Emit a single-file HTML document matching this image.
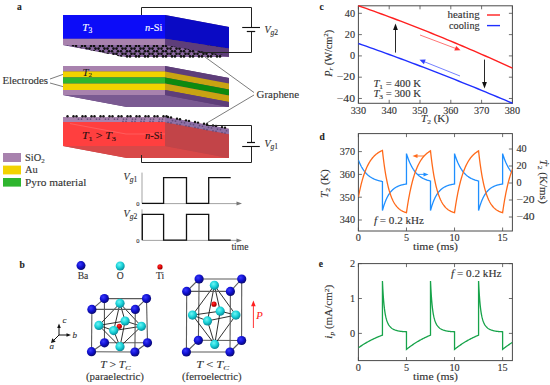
<!DOCTYPE html>
<html><head><meta charset="utf-8"><style>
html,body{margin:0;padding:0;background:#fff;}
svg{display:block;font-family:"Liberation Serif", serif;}
</style></head><body>
<svg width="550" height="385" viewBox="0 0 550 385">
<rect width="550" height="385" fill="#fff"/>
<rect x="358.4" y="5.8" width="154.00" height="97.50" fill="none" stroke="#4a4a4a" stroke-width="1"/>
<line x1="358.40" y1="103.3" x2="358.40" y2="99.8" stroke="#4a4a4a" stroke-width="0.8"/>
<line x1="358.40" y1="5.8" x2="358.40" y2="9.3" stroke="#4a4a4a" stroke-width="0.8"/>
<text x="358.40" y="113.50" font-size="9.6" text-anchor="middle" fill="#333333" textLength="15.3" lengthAdjust="spacingAndGlyphs" stroke="#333333" stroke-width="0.12">330</text>
<line x1="389.20" y1="103.3" x2="389.20" y2="99.8" stroke="#4a4a4a" stroke-width="0.8"/>
<line x1="389.20" y1="5.8" x2="389.20" y2="9.3" stroke="#4a4a4a" stroke-width="0.8"/>
<text x="389.20" y="113.50" font-size="9.6" text-anchor="middle" fill="#333333" textLength="15.3" lengthAdjust="spacingAndGlyphs" stroke="#333333" stroke-width="0.12">340</text>
<line x1="420.00" y1="103.3" x2="420.00" y2="99.8" stroke="#4a4a4a" stroke-width="0.8"/>
<line x1="420.00" y1="5.8" x2="420.00" y2="9.3" stroke="#4a4a4a" stroke-width="0.8"/>
<text x="420.00" y="113.50" font-size="9.6" text-anchor="middle" fill="#333333" textLength="15.3" lengthAdjust="spacingAndGlyphs" stroke="#333333" stroke-width="0.12">350</text>
<line x1="450.80" y1="103.3" x2="450.80" y2="99.8" stroke="#4a4a4a" stroke-width="0.8"/>
<line x1="450.80" y1="5.8" x2="450.80" y2="9.3" stroke="#4a4a4a" stroke-width="0.8"/>
<text x="450.80" y="113.50" font-size="9.6" text-anchor="middle" fill="#333333" textLength="15.3" lengthAdjust="spacingAndGlyphs" stroke="#333333" stroke-width="0.12">360</text>
<line x1="481.60" y1="103.3" x2="481.60" y2="99.8" stroke="#4a4a4a" stroke-width="0.8"/>
<line x1="481.60" y1="5.8" x2="481.60" y2="9.3" stroke="#4a4a4a" stroke-width="0.8"/>
<text x="481.60" y="113.50" font-size="9.6" text-anchor="middle" fill="#333333" textLength="15.3" lengthAdjust="spacingAndGlyphs" stroke="#333333" stroke-width="0.12">370</text>
<line x1="512.40" y1="103.3" x2="512.40" y2="99.8" stroke="#4a4a4a" stroke-width="0.8"/>
<line x1="512.40" y1="5.8" x2="512.40" y2="9.3" stroke="#4a4a4a" stroke-width="0.8"/>
<text x="512.40" y="113.50" font-size="9.6" text-anchor="middle" fill="#333333" textLength="15.3" lengthAdjust="spacingAndGlyphs" stroke="#333333" stroke-width="0.12">380</text>
<line x1="358.4" y1="98.48" x2="361.9" y2="98.48" stroke="#4a4a4a" stroke-width="0.8"/>
<line x1="512.4" y1="98.48" x2="508.9" y2="98.48" stroke="#4a4a4a" stroke-width="0.8"/>
<text x="355.00" y="101.78" font-size="9.6" text-anchor="end" fill="#333333" textLength="18.2" lengthAdjust="spacingAndGlyphs" stroke="#333333" stroke-width="0.12">&#8722;40</text>
<line x1="358.4" y1="77.19" x2="361.9" y2="77.19" stroke="#4a4a4a" stroke-width="0.8"/>
<line x1="512.4" y1="77.19" x2="508.9" y2="77.19" stroke="#4a4a4a" stroke-width="0.8"/>
<text x="355.00" y="80.49" font-size="9.6" text-anchor="end" fill="#333333" textLength="18.2" lengthAdjust="spacingAndGlyphs" stroke="#333333" stroke-width="0.12">&#8722;20</text>
<line x1="358.4" y1="55.90" x2="361.9" y2="55.90" stroke="#4a4a4a" stroke-width="0.8"/>
<line x1="512.4" y1="55.90" x2="508.9" y2="55.90" stroke="#4a4a4a" stroke-width="0.8"/>
<text x="355.00" y="59.20" font-size="9.6" text-anchor="end" fill="#333333" textLength="5.1" lengthAdjust="spacingAndGlyphs" stroke="#333333" stroke-width="0.12">0</text>
<line x1="358.4" y1="34.61" x2="361.9" y2="34.61" stroke="#4a4a4a" stroke-width="0.8"/>
<line x1="512.4" y1="34.61" x2="508.9" y2="34.61" stroke="#4a4a4a" stroke-width="0.8"/>
<text x="355.00" y="37.91" font-size="9.6" text-anchor="end" fill="#333333" textLength="10.2" lengthAdjust="spacingAndGlyphs" stroke="#333333" stroke-width="0.12">20</text>
<line x1="358.4" y1="13.32" x2="361.9" y2="13.32" stroke="#4a4a4a" stroke-width="0.8"/>
<line x1="512.4" y1="13.32" x2="508.9" y2="13.32" stroke="#4a4a4a" stroke-width="0.8"/>
<text x="355.00" y="16.62" font-size="9.6" text-anchor="end" fill="#333333" textLength="10.2" lengthAdjust="spacingAndGlyphs" stroke="#333333" stroke-width="0.12">40</text>
<path d="M358.40,5.74 L362.25,7.09 L366.10,8.45 L369.95,9.82 L373.80,11.21 L377.65,12.60 L381.50,14.01 L385.35,15.42 L389.20,16.85 L393.05,18.28 L396.90,19.73 L400.75,21.19 L404.60,22.66 L408.45,24.14 L412.30,25.63 L416.15,27.13 L420.00,28.64 L423.85,30.16 L427.70,31.70 L431.55,33.24 L435.40,34.80 L439.25,36.36 L443.10,37.94 L446.95,39.53 L450.80,41.13 L454.65,42.74 L458.50,44.36 L462.35,45.99 L466.20,47.63 L470.05,49.28 L473.90,50.94 L477.75,52.62 L481.60,54.30 L485.45,56.00 L489.30,57.70 L493.15,59.42 L497.00,61.15 L500.85,62.89 L504.70,64.64 L508.55,66.40 L512.40,68.17" fill="none" stroke="#ff1f1f" stroke-width="1.4"/>
<path d="M358.40,43.47 L362.25,44.82 L366.10,46.18 L369.95,47.55 L373.80,48.92 L377.65,50.30 L381.50,51.69 L385.35,53.09 L389.20,54.49 L393.05,55.90 L396.90,57.32 L400.75,58.74 L404.60,60.17 L408.45,61.61 L412.30,63.06 L416.15,64.52 L420.00,65.98 L423.85,67.45 L427.70,68.92 L431.55,70.40 L435.40,71.90 L439.25,73.39 L443.10,74.90 L446.95,76.41 L450.80,77.93 L454.65,79.46 L458.50,80.99 L462.35,82.53 L466.20,84.08 L470.05,85.64 L473.90,87.20 L477.75,88.77 L481.60,90.35 L485.45,91.94 L489.30,93.53 L493.15,95.13 L497.00,96.74 L500.85,98.35 L504.70,99.97 L508.55,101.60 L512.40,103.24" fill="none" stroke="#1f2fff" stroke-width="1.4"/>
<line x1="395.5" y1="52.6" x2="395.5" y2="28" stroke="#111" stroke-width="0.9"/>
<path d="M395.5,23.5 L393.1,30 L397.9,30 Z" fill="#111"/>
<line x1="484.5" y1="59.6" x2="484.5" y2="84" stroke="#111" stroke-width="0.9"/>
<path d="M484.5,88.5 L482.1,82 L486.9,82 Z" fill="#111"/>
<line x1="420" y1="35" x2="456" y2="48.6" stroke="#ff5050" stroke-width="0.8"/>
<path d="M460.5,50.3 L454.3,50.6 L456.2,45.9 Z" fill="#ff3030"/>
<line x1="460" y1="76" x2="424" y2="61.6" stroke="#5060ff" stroke-width="0.8"/>
<path d="M419.5,59.8 L425.7,59.6 L423.9,64.3 Z" fill="#3040ff"/>
<line x1="487" y1="15" x2="500" y2="15" stroke="#ff1f1f" stroke-width="1.4"/>
<line x1="487" y1="25.6" x2="500" y2="25.6" stroke="#1f2fff" stroke-width="1.4"/>
<text x="479.60" y="18.40" font-size="9.6" text-anchor="end" fill="#333333" textLength="32" lengthAdjust="spacingAndGlyphs" stroke="#333333" stroke-width="0.12">heating</text>
<text x="479.60" y="28.60" font-size="9.6" text-anchor="end" fill="#333333" textLength="30.6" lengthAdjust="spacingAndGlyphs" stroke="#333333" stroke-width="0.12">cooling</text>
<text x="373.4" y="87" font-size="9.4" fill="#333333" textLength="47.6" lengthAdjust="spacingAndGlyphs" stroke="#333333" stroke-width="0.12"><tspan font-style="italic">T</tspan><tspan font-size="6.5" dy="1.6">1</tspan><tspan dy="-1.6"> = 400 K</tspan></text>
<text x="373.4" y="97" font-size="9.4" fill="#333333" textLength="47.6" lengthAdjust="spacingAndGlyphs" stroke="#333333" stroke-width="0.12"><tspan font-style="italic">T</tspan><tspan font-size="6.5" dy="1.6">3</tspan><tspan dy="-1.6"> = 300 K</tspan></text>
<text x="421" y="122" font-size="9.6" fill="#333333" textLength="28" lengthAdjust="spacingAndGlyphs" stroke="#333333" stroke-width="0.12"><tspan font-style="italic">T</tspan><tspan font-size="6.5" dy="1.6">2</tspan><tspan dy="-1.6">  (K)</tspan></text>
<g transform="translate(331.5,53.3) rotate(-90)"><text x="0" y="0" font-size="9.6" text-anchor="middle" fill="#333333" textLength="47" lengthAdjust="spacingAndGlyphs" stroke="#333333" stroke-width="0.12"><tspan font-style="italic">P</tspan><tspan font-size="6.5" dy="1.6" font-style="italic">r</tspan><tspan dy="-1.6"> (W/cm</tspan><tspan font-size="6.5" dy="-3.5">2</tspan><tspan dy="3.5">)</tspan></text></g>
<text x="319.40" y="9.50" font-size="9.5" text-anchor="start" fill="#222" font-weight="bold"  stroke="#222" stroke-width="0.12">c</text>
<rect x="358.4" y="133.6" width="154.00" height="97.40" fill="none" stroke="#4a4a4a" stroke-width="1"/>
<line x1="358.40" y1="231.0" x2="358.40" y2="227.5" stroke="#4a4a4a" stroke-width="0.8"/>
<line x1="358.40" y1="133.6" x2="358.40" y2="137.1" stroke="#4a4a4a" stroke-width="0.8"/>
<text x="358.40" y="241.30" font-size="9.6" text-anchor="middle" fill="#333333" textLength="5.1" lengthAdjust="spacingAndGlyphs" stroke="#333333" stroke-width="0.12">0</text>
<line x1="406.47" y1="231.0" x2="406.47" y2="227.5" stroke="#4a4a4a" stroke-width="0.8"/>
<line x1="406.47" y1="133.6" x2="406.47" y2="137.1" stroke="#4a4a4a" stroke-width="0.8"/>
<text x="406.47" y="241.30" font-size="9.6" text-anchor="middle" fill="#333333" textLength="5.1" lengthAdjust="spacingAndGlyphs" stroke="#333333" stroke-width="0.12">5</text>
<line x1="454.54" y1="231.0" x2="454.54" y2="227.5" stroke="#4a4a4a" stroke-width="0.8"/>
<line x1="454.54" y1="133.6" x2="454.54" y2="137.1" stroke="#4a4a4a" stroke-width="0.8"/>
<text x="454.54" y="241.30" font-size="9.6" text-anchor="middle" fill="#333333" textLength="10.2" lengthAdjust="spacingAndGlyphs" stroke="#333333" stroke-width="0.12">10</text>
<line x1="502.61" y1="231.0" x2="502.61" y2="227.5" stroke="#4a4a4a" stroke-width="0.8"/>
<line x1="502.61" y1="133.6" x2="502.61" y2="137.1" stroke="#4a4a4a" stroke-width="0.8"/>
<text x="502.61" y="241.30" font-size="9.6" text-anchor="middle" fill="#333333" textLength="10.2" lengthAdjust="spacingAndGlyphs" stroke="#333333" stroke-width="0.12">15</text>
<line x1="358.4" y1="220.00" x2="361.9" y2="220.00" stroke="#4a4a4a" stroke-width="0.8"/>
<text x="355.00" y="223.30" font-size="9.6" text-anchor="end" fill="#333333" textLength="15.3" lengthAdjust="spacingAndGlyphs" stroke="#333333" stroke-width="0.12">340</text>
<line x1="358.4" y1="197.20" x2="361.9" y2="197.20" stroke="#4a4a4a" stroke-width="0.8"/>
<text x="355.00" y="200.50" font-size="9.6" text-anchor="end" fill="#333333" textLength="15.3" lengthAdjust="spacingAndGlyphs" stroke="#333333" stroke-width="0.12">350</text>
<line x1="358.4" y1="174.40" x2="361.9" y2="174.40" stroke="#4a4a4a" stroke-width="0.8"/>
<text x="355.00" y="177.70" font-size="9.6" text-anchor="end" fill="#333333" textLength="15.3" lengthAdjust="spacingAndGlyphs" stroke="#333333" stroke-width="0.12">360</text>
<line x1="358.4" y1="151.60" x2="361.9" y2="151.60" stroke="#4a4a4a" stroke-width="0.8"/>
<text x="355.00" y="154.90" font-size="9.6" text-anchor="end" fill="#333333" textLength="15.3" lengthAdjust="spacingAndGlyphs" stroke="#333333" stroke-width="0.12">370</text>
<line x1="512.4" y1="217.00" x2="508.9" y2="217.00" stroke="#4a4a4a" stroke-width="0.8"/>
<text x="516.50" y="220.30" font-size="9.6" text-anchor="start" fill="#333333" textLength="18.2" lengthAdjust="spacingAndGlyphs" stroke="#333333" stroke-width="0.12">&#8722;40</text>
<line x1="512.4" y1="200.00" x2="508.9" y2="200.00" stroke="#4a4a4a" stroke-width="0.8"/>
<text x="516.50" y="203.30" font-size="9.6" text-anchor="start" fill="#333333" textLength="18.2" lengthAdjust="spacingAndGlyphs" stroke="#333333" stroke-width="0.12">&#8722;20</text>
<line x1="512.4" y1="183.00" x2="508.9" y2="183.00" stroke="#4a4a4a" stroke-width="0.8"/>
<text x="516.50" y="186.30" font-size="9.6" text-anchor="start" fill="#333333" textLength="5.1" lengthAdjust="spacingAndGlyphs" stroke="#333333" stroke-width="0.12">0</text>
<line x1="512.4" y1="166.00" x2="508.9" y2="166.00" stroke="#4a4a4a" stroke-width="0.8"/>
<text x="516.50" y="169.30" font-size="9.6" text-anchor="start" fill="#333333" textLength="10.2" lengthAdjust="spacingAndGlyphs" stroke="#333333" stroke-width="0.12">20</text>
<line x1="512.4" y1="149.00" x2="508.9" y2="149.00" stroke="#4a4a4a" stroke-width="0.8"/>
<text x="516.50" y="152.30" font-size="9.6" text-anchor="start" fill="#333333" textLength="10.2" lengthAdjust="spacingAndGlyphs" stroke="#333333" stroke-width="0.12">40</text>
<defs><clipPath id="clipd"><rect x="358.4" y="133.6" width="154.00" height="97.40"/></clipPath><clipPath id="clipe"><rect x="358.4" y="263.6" width="154" height="97"/></clipPath></defs>
<g clip-path="url(#clipd)"><path d="M358.40,160.05 L358.80,161.06 L359.20,162.02 L359.60,162.94 L360.00,163.82 L360.40,164.66 L360.80,165.46 L361.20,166.23 L361.60,166.96 L362.01,167.67 L362.41,168.34 L362.81,168.98 L363.21,169.59 L363.61,170.18 L364.01,170.74 L364.41,171.28 L364.81,171.79 L365.21,172.28 L365.61,172.75 L366.01,173.20 L366.41,173.63 L366.81,174.04 L367.21,174.44 L367.61,174.81 L368.01,175.17 L368.41,175.51 L368.82,175.84 L369.22,176.15 L369.62,176.45 L370.02,176.74 L370.42,177.02 L370.82,177.28 L371.22,177.53 L371.62,177.77 L372.02,178.00 L372.42,178.22 L372.82,178.43 L373.22,178.63 L373.62,178.82 L374.02,179.00 L374.42,179.18 L374.82,179.34 L375.22,179.50 L375.63,179.66 L376.03,179.80 L376.43,179.94 L376.83,180.08 L377.23,180.21 L377.63,180.33 L378.03,180.45 L378.43,180.56 L378.83,180.66 L379.23,180.77 L379.63,180.86 L380.03,180.96 L380.43,181.05 L380.83,181.13 L381.23,181.21 L381.63,181.29 L382.03,181.37 L382.44,181.44 L382.44,210.62 L382.84,209.15 L383.24,207.75 L383.64,206.42 L384.04,205.17 L384.44,203.98 L384.84,202.86 L385.24,201.79 L385.64,200.79 L386.04,199.83 L386.44,198.93 L386.84,198.08 L387.24,197.27 L387.64,196.51 L388.04,195.78 L388.44,195.10 L388.84,194.45 L389.24,193.84 L389.65,193.26 L390.05,192.71 L390.45,192.19 L390.85,191.70 L391.25,191.23 L391.65,190.79 L392.05,190.37 L392.45,189.98 L392.85,189.60 L393.25,189.25 L393.65,188.92 L394.05,188.60 L394.45,188.30 L394.85,188.01 L395.25,187.75 L395.65,187.49 L396.05,187.25 L396.46,187.02 L396.86,186.81 L397.26,186.60 L397.66,186.41 L398.06,186.23 L398.46,186.06 L398.86,185.89 L399.26,185.74 L399.66,185.59 L400.06,185.45 L400.46,185.32 L400.86,185.20 L401.26,185.08 L401.66,184.97 L402.06,184.86 L402.46,184.76 L402.86,184.67 L403.27,184.58 L403.67,184.49 L404.07,184.41 L404.47,184.34 L404.87,184.27 L405.27,184.20 L405.67,184.13 L406.07,184.07 L406.47,184.02 L406.47,153.59 L406.87,154.88 L407.27,156.11 L407.67,157.29 L408.07,158.42 L408.47,159.49 L408.87,160.52 L409.27,161.51 L409.67,162.45 L410.08,163.35 L410.48,164.21 L410.88,165.03 L411.28,165.82 L411.68,166.57 L412.08,167.29 L412.48,167.98 L412.88,168.64 L413.28,169.27 L413.68,169.87 L414.08,170.45 L414.48,171.00 L414.88,171.52 L415.28,172.02 L415.68,172.51 L416.08,172.97 L416.48,173.40 L416.89,173.83 L417.29,174.23 L417.69,174.61 L418.09,174.98 L418.49,175.33 L418.89,175.67 L419.29,175.99 L419.69,176.30 L420.09,176.59 L420.49,176.87 L420.89,177.14 L421.29,177.40 L421.69,177.64 L422.09,177.88 L422.49,178.10 L422.89,178.31 L423.29,178.52 L423.70,178.72 L424.10,178.90 L424.50,179.08 L424.90,179.26 L425.30,179.42 L425.70,179.58 L426.10,179.73 L426.50,179.87 L426.90,180.01 L427.30,180.14 L427.70,180.26 L428.10,180.38 L428.50,180.50 L428.90,180.61 L429.30,180.71 L429.70,180.81 L430.10,180.91 L430.50,181.00 L430.50,210.62 L430.91,209.15 L431.31,207.75 L431.71,206.42 L432.11,205.17 L432.51,203.98 L432.91,202.86 L433.31,201.79 L433.71,200.79 L434.11,199.83 L434.51,198.93 L434.91,198.08 L435.31,197.27 L435.71,196.51 L436.11,195.78 L436.51,195.10 L436.91,194.45 L437.31,193.84 L437.72,193.26 L438.12,192.71 L438.52,192.19 L438.92,191.70 L439.32,191.23 L439.72,190.79 L440.12,190.37 L440.52,189.98 L440.92,189.60 L441.32,189.25 L441.72,188.92 L442.12,188.60 L442.52,188.30 L442.92,188.01 L443.32,187.75 L443.72,187.49 L444.12,187.25 L444.53,187.02 L444.93,186.81 L445.33,186.60 L445.73,186.41 L446.13,186.23 L446.53,186.06 L446.93,185.89 L447.33,185.74 L447.73,185.59 L448.13,185.45 L448.53,185.32 L448.93,185.20 L449.33,185.08 L449.73,184.97 L450.13,184.86 L450.53,184.76 L450.93,184.67 L451.34,184.58 L451.74,184.49 L452.14,184.41 L452.54,184.34 L452.94,184.27 L453.34,184.20 L453.74,184.13 L454.14,184.07 L454.54,184.02 L454.54,153.59 L454.94,154.88 L455.34,156.11 L455.74,157.29 L456.14,158.42 L456.54,159.49 L456.94,160.52 L457.34,161.51 L457.74,162.45 L458.15,163.35 L458.55,164.21 L458.95,165.03 L459.35,165.82 L459.75,166.57 L460.15,167.29 L460.55,167.98 L460.95,168.64 L461.35,169.27 L461.75,169.87 L462.15,170.45 L462.55,171.00 L462.95,171.52 L463.35,172.02 L463.75,172.51 L464.15,172.97 L464.55,173.40 L464.96,173.83 L465.36,174.23 L465.76,174.61 L466.16,174.98 L466.56,175.33 L466.96,175.67 L467.36,175.99 L467.76,176.30 L468.16,176.59 L468.56,176.87 L468.96,177.14 L469.36,177.40 L469.76,177.64 L470.16,177.88 L470.56,178.10 L470.96,178.31 L471.36,178.52 L471.77,178.72 L472.17,178.90 L472.57,179.08 L472.97,179.26 L473.37,179.42 L473.77,179.58 L474.17,179.73 L474.57,179.87 L474.97,180.01 L475.37,180.14 L475.77,180.26 L476.17,180.38 L476.57,180.50 L476.97,180.61 L477.37,180.71 L477.77,180.81 L478.17,180.91 L478.57,181.00 L478.57,210.62 L478.98,209.15 L479.38,207.75 L479.78,206.42 L480.18,205.17 L480.58,203.98 L480.98,202.86 L481.38,201.79 L481.78,200.79 L482.18,199.83 L482.58,198.93 L482.98,198.08 L483.38,197.27 L483.78,196.51 L484.18,195.78 L484.58,195.10 L484.98,194.45 L485.38,193.84 L485.79,193.26 L486.19,192.71 L486.59,192.19 L486.99,191.70 L487.39,191.23 L487.79,190.79 L488.19,190.37 L488.59,189.98 L488.99,189.60 L489.39,189.25 L489.79,188.92 L490.19,188.60 L490.59,188.30 L490.99,188.01 L491.39,187.75 L491.79,187.49 L492.19,187.25 L492.60,187.02 L493.00,186.81 L493.40,186.60 L493.80,186.41 L494.20,186.23 L494.60,186.06 L495.00,185.89 L495.40,185.74 L495.80,185.59 L496.20,185.45 L496.60,185.32 L497.00,185.20 L497.40,185.08 L497.80,184.97 L498.20,184.86 L498.60,184.76 L499.00,184.67 L499.41,184.58 L499.81,184.49 L500.21,184.41 L500.61,184.34 L501.01,184.27 L501.41,184.20 L501.81,184.13 L502.21,184.07 L502.61,184.02 L502.61,153.59 L503.01,154.88 L503.41,156.11 L503.81,157.29 L504.21,158.42 L504.61,159.49 L505.01,160.52 L505.41,161.51 L505.81,162.45 L506.22,163.35 L506.62,164.21 L507.02,165.03 L507.42,165.82 L507.82,166.57 L508.22,167.29 L508.62,167.98 L509.02,168.64 L509.42,169.27 L509.82,169.87 L510.22,170.45 L510.62,171.00 L511.02,171.52 L511.42,172.02 L511.82,172.51 L512.22,172.97 L512.62,173.40" fill="none" stroke="#1f8fff" stroke-width="1.3"/>
<path d="M358.40,197.20 L358.80,195.10 L359.20,193.08 L359.60,191.15 L360.00,189.30 L360.40,187.53 L360.80,185.82 L361.20,184.19 L361.60,182.63 L362.01,181.13 L362.41,179.69 L362.81,178.32 L363.21,177.00 L363.61,175.73 L364.01,174.52 L364.41,173.36 L364.81,172.24 L365.21,171.17 L365.61,170.15 L366.01,169.17 L366.41,168.23 L366.81,167.33 L367.21,166.46 L367.61,165.63 L368.01,164.84 L368.41,164.08 L368.82,163.35 L369.22,162.65 L369.62,161.98 L370.02,161.33 L370.42,160.72 L370.82,160.12 L371.22,159.56 L371.62,159.02 L372.02,158.50 L372.42,158.00 L372.82,157.52 L373.22,157.06 L373.62,156.62 L374.02,156.20 L374.42,155.80 L374.82,155.41 L375.22,155.04 L375.63,154.68 L376.03,154.34 L376.43,154.01 L376.83,153.70 L377.23,153.40 L377.63,153.11 L378.03,152.84 L378.43,152.57 L378.83,152.32 L379.23,152.07 L379.63,151.84 L380.03,151.62 L380.43,151.40 L380.83,151.20 L381.23,151.00 L381.63,150.81 L382.03,150.63 L382.44,150.46 L382.44,150.46 L382.84,154.07 L383.24,157.48 L383.64,160.70 L384.04,163.73 L384.44,166.60 L384.84,169.30 L385.24,171.86 L385.64,174.27 L386.04,176.54 L386.44,178.68 L386.84,180.71 L387.24,182.62 L387.64,184.42 L388.04,186.13 L388.44,187.73 L388.84,189.25 L389.24,190.68 L389.65,192.03 L390.05,193.31 L390.45,194.51 L390.85,195.64 L391.25,196.71 L391.65,197.73 L392.05,198.68 L392.45,199.58 L392.85,200.43 L393.25,201.23 L393.65,201.99 L394.05,202.71 L394.45,203.38 L394.85,204.02 L395.25,204.62 L395.65,205.18 L396.05,205.72 L396.46,206.22 L396.86,206.70 L397.26,207.15 L397.66,207.57 L398.06,207.97 L398.46,208.35 L398.86,208.71 L399.26,209.05 L399.66,209.36 L400.06,209.66 L400.46,209.95 L400.86,210.21 L401.26,210.47 L401.66,210.70 L402.06,210.93 L402.46,211.14 L402.86,211.34 L403.27,211.53 L403.67,211.71 L404.07,211.88 L404.47,212.03 L404.87,212.18 L405.27,212.33 L405.67,212.46 L406.07,212.59 L406.47,212.70 L406.47,212.70 L406.87,209.93 L407.27,207.26 L407.67,204.71 L408.07,202.26 L408.47,199.91 L408.87,197.67 L409.27,195.51 L409.67,193.44 L410.08,191.46 L410.48,189.56 L410.88,187.74 L411.28,186.00 L411.68,184.33 L412.08,182.72 L412.48,181.18 L412.88,179.71 L413.28,178.30 L413.68,176.95 L414.08,175.65 L414.48,174.40 L414.88,173.21 L415.28,172.07 L415.68,170.97 L416.08,169.92 L416.48,168.92 L416.89,167.95 L417.29,167.03 L417.69,166.14 L418.09,165.29 L418.49,164.47 L418.89,163.69 L419.29,162.94 L419.69,162.23 L420.09,161.54 L420.49,160.88 L420.89,160.25 L421.29,159.64 L421.69,159.06 L422.09,158.50 L422.49,157.97 L422.89,157.46 L423.29,156.97 L423.70,156.50 L424.10,156.05 L424.50,155.61 L424.90,155.20 L425.30,154.80 L425.70,154.42 L426.10,154.06 L426.50,153.71 L426.90,153.37 L427.30,153.05 L427.70,152.74 L428.10,152.45 L428.50,152.16 L428.90,151.89 L429.30,151.63 L429.70,151.38 L430.10,151.15 L430.50,150.92 L430.50,150.92 L430.91,154.50 L431.31,157.89 L431.71,161.08 L432.11,164.09 L432.51,166.94 L432.91,169.62 L433.31,172.16 L433.71,174.55 L434.11,176.80 L434.51,178.93 L434.91,180.94 L435.31,182.84 L435.71,184.63 L436.11,186.32 L436.51,187.92 L436.91,189.42 L437.31,190.84 L437.72,192.18 L438.12,193.45 L438.52,194.64 L438.92,195.77 L439.32,196.83 L439.72,197.84 L440.12,198.78 L440.52,199.68 L440.92,200.52 L441.32,201.32 L441.72,202.07 L442.12,202.78 L442.52,203.45 L442.92,204.08 L443.32,204.68 L443.72,205.24 L444.12,205.77 L444.53,206.27 L444.93,206.74 L445.33,207.19 L445.73,207.61 L446.13,208.01 L446.53,208.38 L446.93,208.74 L447.33,209.07 L447.73,209.39 L448.13,209.69 L448.53,209.97 L448.93,210.23 L449.33,210.48 L449.73,210.72 L450.13,210.94 L450.53,211.15 L450.93,211.35 L451.34,211.54 L451.74,211.72 L452.14,211.88 L452.54,212.04 L452.94,212.19 L453.34,212.33 L453.74,212.46 L454.14,212.59 L454.54,212.70 L454.54,212.70 L454.94,209.93 L455.34,207.26 L455.74,204.71 L456.14,202.26 L456.54,199.91 L456.94,197.67 L457.34,195.51 L457.74,193.44 L458.15,191.46 L458.55,189.56 L458.95,187.74 L459.35,186.00 L459.75,184.33 L460.15,182.72 L460.55,181.18 L460.95,179.71 L461.35,178.30 L461.75,176.95 L462.15,175.65 L462.55,174.40 L462.95,173.21 L463.35,172.07 L463.75,170.97 L464.15,169.92 L464.55,168.92 L464.96,167.95 L465.36,167.03 L465.76,166.14 L466.16,165.29 L466.56,164.47 L466.96,163.69 L467.36,162.94 L467.76,162.23 L468.16,161.54 L468.56,160.88 L468.96,160.25 L469.36,159.64 L469.76,159.06 L470.16,158.50 L470.56,157.97 L470.96,157.46 L471.36,156.97 L471.77,156.50 L472.17,156.05 L472.57,155.61 L472.97,155.20 L473.37,154.80 L473.77,154.42 L474.17,154.06 L474.57,153.71 L474.97,153.37 L475.37,153.05 L475.77,152.74 L476.17,152.45 L476.57,152.16 L476.97,151.89 L477.37,151.63 L477.77,151.38 L478.17,151.15 L478.57,150.92 L478.57,150.92 L478.98,154.50 L479.38,157.89 L479.78,161.08 L480.18,164.09 L480.58,166.94 L480.98,169.62 L481.38,172.16 L481.78,174.55 L482.18,176.80 L482.58,178.93 L482.98,180.94 L483.38,182.84 L483.78,184.63 L484.18,186.32 L484.58,187.92 L484.98,189.42 L485.38,190.84 L485.79,192.18 L486.19,193.45 L486.59,194.64 L486.99,195.77 L487.39,196.83 L487.79,197.84 L488.19,198.78 L488.59,199.68 L488.99,200.52 L489.39,201.32 L489.79,202.07 L490.19,202.78 L490.59,203.45 L490.99,204.08 L491.39,204.68 L491.79,205.24 L492.19,205.77 L492.60,206.27 L493.00,206.74 L493.40,207.19 L493.80,207.61 L494.20,208.01 L494.60,208.38 L495.00,208.74 L495.40,209.07 L495.80,209.39 L496.20,209.69 L496.60,209.97 L497.00,210.23 L497.40,210.48 L497.80,210.72 L498.20,210.94 L498.60,211.15 L499.00,211.35 L499.41,211.54 L499.81,211.72 L500.21,211.88 L500.61,212.04 L501.01,212.19 L501.41,212.33 L501.81,212.46 L502.21,212.59 L502.61,212.70 L502.61,212.70 L503.01,209.93 L503.41,207.26 L503.81,204.71 L504.21,202.26 L504.61,199.91 L505.01,197.67 L505.41,195.51 L505.81,193.44 L506.22,191.46 L506.62,189.56 L507.02,187.74 L507.42,186.00 L507.82,184.33 L508.22,182.72 L508.62,181.18 L509.02,179.71 L509.42,178.30 L509.82,176.95 L510.22,175.65 L510.62,174.40 L511.02,173.21 L511.42,172.07 L511.82,170.97 L512.22,169.92 L512.62,168.92" fill="none" stroke="#ff6a1a" stroke-width="1.3"/></g>
<line x1="424" y1="156" x2="416" y2="156" stroke="#ff6a1a" stroke-width="0.9"/>
<path d="M412.5,156 L417.5,154 L417.5,158 Z" fill="#ff6a1a"/>
<line x1="418" y1="174.4" x2="425" y2="174.4" stroke="#1f8fff" stroke-width="0.9"/>
<path d="M428.5,174.4 L423.5,172.4 L423.5,176.4 Z" fill="#1f8fff"/>
<text x="374" y="224" font-size="9.6" fill="#333333" textLength="50" lengthAdjust="spacingAndGlyphs" stroke="#333333" stroke-width="0.12"><tspan font-style="italic">f</tspan><tspan> = 0.2 kHz</tspan></text>
<text x="435.40" y="250.00" font-size="9.6" text-anchor="middle" fill="#333333" textLength="45" lengthAdjust="spacingAndGlyphs" stroke="#333333" stroke-width="0.12">time (ms)</text>
<g transform="translate(328,183.7) rotate(-90)"><text x="0" y="0" font-size="9.6" text-anchor="middle" fill="#333333" textLength="28.7" lengthAdjust="spacingAndGlyphs" stroke="#333333" stroke-width="0.12"><tspan font-style="italic">T</tspan><tspan font-size="6.5" dy="1.6">2</tspan><tspan dy="-1.6"> (K)</tspan></text></g>
<g transform="translate(540,181.6) rotate(90)"><text x="0" y="0" font-size="9.6" text-anchor="middle" fill="#333333" textLength="44" lengthAdjust="spacingAndGlyphs" stroke="#333333" stroke-width="0.12"><tspan font-style="italic">T&#775;</tspan><tspan font-size="6.5" dy="1.6">2</tspan><tspan dy="-1.6"> (K/ms)</tspan></text></g>
<text x="319.40" y="140.00" font-size="9.5" text-anchor="start" fill="#222" font-weight="bold"  stroke="#222" stroke-width="0.12">d</text>
<rect x="358.4" y="263.6" width="154.00" height="97.00" fill="none" stroke="#4a4a4a" stroke-width="1"/>
<line x1="358.40" y1="360.6" x2="358.40" y2="357.1" stroke="#4a4a4a" stroke-width="0.8"/>
<line x1="358.40" y1="263.6" x2="358.40" y2="267.1" stroke="#4a4a4a" stroke-width="0.8"/>
<text x="358.40" y="370.80" font-size="9.6" text-anchor="middle" fill="#333333" textLength="5.1" lengthAdjust="spacingAndGlyphs" stroke="#333333" stroke-width="0.12">0</text>
<line x1="406.47" y1="360.6" x2="406.47" y2="357.1" stroke="#4a4a4a" stroke-width="0.8"/>
<line x1="406.47" y1="263.6" x2="406.47" y2="267.1" stroke="#4a4a4a" stroke-width="0.8"/>
<text x="406.47" y="370.80" font-size="9.6" text-anchor="middle" fill="#333333" textLength="5.1" lengthAdjust="spacingAndGlyphs" stroke="#333333" stroke-width="0.12">5</text>
<line x1="454.54" y1="360.6" x2="454.54" y2="357.1" stroke="#4a4a4a" stroke-width="0.8"/>
<line x1="454.54" y1="263.6" x2="454.54" y2="267.1" stroke="#4a4a4a" stroke-width="0.8"/>
<text x="454.54" y="370.80" font-size="9.6" text-anchor="middle" fill="#333333" textLength="10.2" lengthAdjust="spacingAndGlyphs" stroke="#333333" stroke-width="0.12">10</text>
<line x1="502.61" y1="360.6" x2="502.61" y2="357.1" stroke="#4a4a4a" stroke-width="0.8"/>
<line x1="502.61" y1="263.6" x2="502.61" y2="267.1" stroke="#4a4a4a" stroke-width="0.8"/>
<text x="502.61" y="370.80" font-size="9.6" text-anchor="middle" fill="#333333" textLength="10.2" lengthAdjust="spacingAndGlyphs" stroke="#333333" stroke-width="0.12">15</text>
<line x1="358.4" y1="333.40" x2="361.9" y2="333.40" stroke="#4a4a4a" stroke-width="0.8"/>
<line x1="512.4" y1="333.40" x2="508.9" y2="333.40" stroke="#4a4a4a" stroke-width="0.8"/>
<text x="355.00" y="336.70" font-size="9.6" text-anchor="end" fill="#333333" textLength="5.1" lengthAdjust="spacingAndGlyphs" stroke="#333333" stroke-width="0.12">0</text>
<line x1="358.4" y1="298.50" x2="361.9" y2="298.50" stroke="#4a4a4a" stroke-width="0.8"/>
<line x1="512.4" y1="298.50" x2="508.9" y2="298.50" stroke="#4a4a4a" stroke-width="0.8"/>
<text x="355.00" y="301.80" font-size="9.6" text-anchor="end" fill="#333333" textLength="5.1" lengthAdjust="spacingAndGlyphs" stroke="#333333" stroke-width="0.12">1</text>
<line x1="358.4" y1="263.60" x2="361.9" y2="263.60" stroke="#4a4a4a" stroke-width="0.8"/>
<line x1="512.4" y1="263.60" x2="508.9" y2="263.60" stroke="#4a4a4a" stroke-width="0.8"/>
<text x="355.00" y="266.90" font-size="9.6" text-anchor="end" fill="#333333" textLength="5.1" lengthAdjust="spacingAndGlyphs" stroke="#333333" stroke-width="0.12">2</text>
<g clip-path="url(#clipe)"><path d="M358.40,347.81 L358.80,347.53 L359.20,347.24 L359.60,346.96 L360.00,346.68 L360.40,346.41 L360.80,346.13 L361.20,345.87 L361.60,345.60 L362.01,345.34 L362.41,345.08 L362.81,344.82 L363.21,344.56 L363.61,344.31 L364.01,344.06 L364.41,343.82 L364.81,343.57 L365.21,343.33 L365.61,343.09 L366.01,342.86 L366.41,342.63 L366.81,342.40 L367.21,342.17 L367.61,341.94 L368.01,341.72 L368.41,341.50 L368.82,341.28 L369.22,341.07 L369.62,340.85 L370.02,340.64 L370.42,340.43 L370.82,340.23 L371.22,340.02 L371.62,339.82 L372.02,339.62 L372.42,339.43 L372.82,339.23 L373.22,339.04 L373.62,338.85 L374.02,338.66 L374.42,338.47 L374.82,338.29 L375.22,338.10 L375.63,337.92 L376.03,337.75 L376.43,337.57 L376.83,337.39 L377.23,337.22 L377.63,337.05 L378.03,336.88 L378.43,336.72 L378.83,336.55 L379.23,336.39 L379.63,336.23 L380.03,336.07 L380.43,335.91 L380.83,335.75 L381.23,335.60 L381.63,335.45 L382.03,335.29 L382.44,335.14 L382.44,281.05 L382.84,289.04 L383.24,295.51 L383.64,300.79 L384.04,305.11 L384.44,308.67 L384.84,311.63 L385.24,314.10 L385.64,316.17 L386.04,317.93 L386.44,319.42 L386.84,320.71 L387.24,321.82 L387.64,322.79 L388.04,323.64 L388.44,324.39 L388.84,325.05 L389.24,325.64 L389.65,326.17 L390.05,326.65 L390.45,327.08 L390.85,327.47 L391.25,327.83 L391.65,328.15 L392.05,328.45 L392.45,328.72 L392.85,328.97 L393.25,329.20 L393.65,329.41 L394.05,329.60 L394.45,329.78 L394.85,329.95 L395.25,330.10 L395.65,330.24 L396.05,330.37 L396.46,330.49 L396.86,330.60 L397.26,330.70 L397.66,330.80 L398.06,330.89 L398.46,330.97 L398.86,331.04 L399.26,331.11 L399.66,331.18 L400.06,331.24 L400.46,331.30 L400.86,331.35 L401.26,331.40 L401.66,331.44 L402.06,331.48 L402.46,331.52 L402.86,331.55 L403.27,331.59 L403.67,331.62 L404.07,331.65 L404.47,331.67 L404.87,331.70 L405.27,331.72 L405.67,331.74 L406.07,331.76 L406.47,331.78 L406.47,349.38 L406.87,349.06 L407.27,348.74 L407.67,348.42 L408.07,348.11 L408.47,347.80 L408.87,347.50 L409.27,347.19 L409.67,346.90 L410.08,346.60 L410.48,346.31 L410.88,346.02 L411.28,345.73 L411.68,345.45 L412.08,345.17 L412.48,344.89 L412.88,344.62 L413.28,344.35 L413.68,344.08 L414.08,343.81 L414.48,343.55 L414.88,343.29 L415.28,343.04 L415.68,342.78 L416.08,342.53 L416.48,342.29 L416.89,342.04 L417.29,341.80 L417.69,341.56 L418.09,341.32 L418.49,341.09 L418.89,340.86 L419.29,340.63 L419.69,340.40 L420.09,340.18 L420.49,339.96 L420.89,339.74 L421.29,339.52 L421.69,339.31 L422.09,339.09 L422.49,338.88 L422.89,338.68 L423.29,338.47 L423.70,338.27 L424.10,338.07 L424.50,337.87 L424.90,337.67 L425.30,337.48 L425.70,337.29 L426.10,337.10 L426.50,336.91 L426.90,336.73 L427.30,336.54 L427.70,336.36 L428.10,336.18 L428.50,336.00 L428.90,335.83 L429.30,335.65 L429.70,335.48 L430.10,335.31 L430.50,335.14 L430.50,281.05 L430.91,289.04 L431.31,295.51 L431.71,300.79 L432.11,305.11 L432.51,308.67 L432.91,311.63 L433.31,314.10 L433.71,316.17 L434.11,317.93 L434.51,319.42 L434.91,320.71 L435.31,321.82 L435.71,322.79 L436.11,323.64 L436.51,324.39 L436.91,325.05 L437.31,325.64 L437.72,326.17 L438.12,326.65 L438.52,327.08 L438.92,327.47 L439.32,327.83 L439.72,328.15 L440.12,328.45 L440.52,328.72 L440.92,328.97 L441.32,329.20 L441.72,329.41 L442.12,329.60 L442.52,329.78 L442.92,329.95 L443.32,330.10 L443.72,330.24 L444.12,330.37 L444.53,330.49 L444.93,330.60 L445.33,330.70 L445.73,330.80 L446.13,330.89 L446.53,330.97 L446.93,331.04 L447.33,331.11 L447.73,331.18 L448.13,331.24 L448.53,331.30 L448.93,331.35 L449.33,331.40 L449.73,331.44 L450.13,331.48 L450.53,331.52 L450.93,331.55 L451.34,331.59 L451.74,331.62 L452.14,331.65 L452.54,331.67 L452.94,331.70 L453.34,331.72 L453.74,331.74 L454.14,331.76 L454.54,331.78 L454.54,349.38 L454.94,349.06 L455.34,348.74 L455.74,348.42 L456.14,348.11 L456.54,347.80 L456.94,347.50 L457.34,347.19 L457.74,346.90 L458.15,346.60 L458.55,346.31 L458.95,346.02 L459.35,345.73 L459.75,345.45 L460.15,345.17 L460.55,344.89 L460.95,344.62 L461.35,344.35 L461.75,344.08 L462.15,343.81 L462.55,343.55 L462.95,343.29 L463.35,343.04 L463.75,342.78 L464.15,342.53 L464.55,342.29 L464.96,342.04 L465.36,341.80 L465.76,341.56 L466.16,341.32 L466.56,341.09 L466.96,340.86 L467.36,340.63 L467.76,340.40 L468.16,340.18 L468.56,339.96 L468.96,339.74 L469.36,339.52 L469.76,339.31 L470.16,339.09 L470.56,338.88 L470.96,338.68 L471.36,338.47 L471.77,338.27 L472.17,338.07 L472.57,337.87 L472.97,337.67 L473.37,337.48 L473.77,337.29 L474.17,337.10 L474.57,336.91 L474.97,336.73 L475.37,336.54 L475.77,336.36 L476.17,336.18 L476.57,336.00 L476.97,335.83 L477.37,335.65 L477.77,335.48 L478.17,335.31 L478.57,335.14 L478.57,281.05 L478.98,289.04 L479.38,295.51 L479.78,300.79 L480.18,305.11 L480.58,308.67 L480.98,311.63 L481.38,314.10 L481.78,316.17 L482.18,317.93 L482.58,319.42 L482.98,320.71 L483.38,321.82 L483.78,322.79 L484.18,323.64 L484.58,324.39 L484.98,325.05 L485.38,325.64 L485.79,326.17 L486.19,326.65 L486.59,327.08 L486.99,327.47 L487.39,327.83 L487.79,328.15 L488.19,328.45 L488.59,328.72 L488.99,328.97 L489.39,329.20 L489.79,329.41 L490.19,329.60 L490.59,329.78 L490.99,329.95 L491.39,330.10 L491.79,330.24 L492.19,330.37 L492.60,330.49 L493.00,330.60 L493.40,330.70 L493.80,330.80 L494.20,330.89 L494.60,330.97 L495.00,331.04 L495.40,331.11 L495.80,331.18 L496.20,331.24 L496.60,331.30 L497.00,331.35 L497.40,331.40 L497.80,331.44 L498.20,331.48 L498.60,331.52 L499.00,331.55 L499.41,331.59 L499.81,331.62 L500.21,331.65 L500.61,331.67 L501.01,331.70 L501.41,331.72 L501.81,331.74 L502.21,331.76 L502.61,331.78 L502.61,349.38 L503.01,349.06 L503.41,348.74 L503.81,348.42 L504.21,348.11 L504.61,347.80 L505.01,347.50 L505.41,347.19 L505.81,346.90 L506.22,346.60 L506.62,346.31 L507.02,346.02 L507.42,345.73 L507.82,345.45 L508.22,345.17 L508.62,344.89 L509.02,344.62 L509.42,344.35 L509.82,344.08 L510.22,343.81 L510.62,343.55 L511.02,343.29 L511.42,343.04 L511.82,342.78 L512.22,342.53" fill="none" stroke="#17a34a" stroke-width="1.3"/></g>
<text x="451" y="276.6" font-size="9.6" fill="#333333" textLength="50.6" lengthAdjust="spacingAndGlyphs" stroke="#333333" stroke-width="0.12"><tspan font-style="italic">f</tspan><tspan> = 0.2 kHz</tspan></text>
<text x="435.40" y="380.00" font-size="9.6" text-anchor="middle" fill="#333333" textLength="45" lengthAdjust="spacingAndGlyphs" stroke="#333333" stroke-width="0.12">time (ms)</text>
<g transform="translate(332,311.7) rotate(-90)"><text x="0" y="0" font-size="9.6" text-anchor="middle" fill="#333333" textLength="54" lengthAdjust="spacingAndGlyphs" stroke="#333333" stroke-width="0.12"><tspan font-style="italic">i</tspan><tspan font-size="6.5" dy="1.6" font-style="italic">p</tspan><tspan dy="-1.6"> (mA/cm</tspan><tspan font-size="6.5" dy="-3.5">2</tspan><tspan dy="3.5">)</tspan></text></g>
<text x="318.80" y="267.00" font-size="9.5" text-anchor="start" fill="#222" font-weight="bold"  stroke="#222" stroke-width="0.12">e</text>
<polygon points="63,15 165,15 229,27 229,57 127,57 63,45" fill="#5e3e7a"/>
<polygon points="63,45 165,45 229,57 127,57" fill="#8a68a0"/>
<clipPath id="gtop"><polygon points="64,44.5 224,44.5 223,58 127,58"/></clipPath>
<g clip-path="url(#gtop)" fill="#111"><circle cx="55.00" cy="46.00" r="1.3"/><circle cx="58.00" cy="46.00" r="1.3"/><circle cx="64.00" cy="46.00" r="1.3"/><circle cx="67.00" cy="46.00" r="1.3"/><circle cx="73.00" cy="46.00" r="1.3"/><circle cx="76.00" cy="46.00" r="1.3"/><circle cx="82.00" cy="46.00" r="1.3"/><circle cx="85.00" cy="46.00" r="1.3"/><circle cx="91.00" cy="46.00" r="1.3"/><circle cx="94.00" cy="46.00" r="1.3"/><circle cx="100.00" cy="46.00" r="1.3"/><circle cx="103.00" cy="46.00" r="1.3"/><circle cx="109.00" cy="46.00" r="1.3"/><circle cx="112.00" cy="46.00" r="1.3"/><circle cx="118.00" cy="46.00" r="1.3"/><circle cx="121.00" cy="46.00" r="1.3"/><circle cx="127.00" cy="46.00" r="1.3"/><circle cx="130.00" cy="46.00" r="1.3"/><circle cx="136.00" cy="46.00" r="1.3"/><circle cx="139.00" cy="46.00" r="1.3"/><circle cx="145.00" cy="46.00" r="1.3"/><circle cx="148.00" cy="46.00" r="1.3"/><circle cx="154.00" cy="46.00" r="1.3"/><circle cx="157.00" cy="46.00" r="1.3"/><circle cx="163.00" cy="46.00" r="1.3"/><circle cx="166.00" cy="46.00" r="1.3"/><circle cx="172.00" cy="46.00" r="1.3"/><circle cx="175.00" cy="46.00" r="1.3"/><circle cx="181.00" cy="46.00" r="1.3"/><circle cx="184.00" cy="46.00" r="1.3"/><circle cx="190.00" cy="46.00" r="1.3"/><circle cx="193.00" cy="46.00" r="1.3"/><circle cx="199.00" cy="46.00" r="1.3"/><circle cx="202.00" cy="46.00" r="1.3"/><circle cx="208.00" cy="46.00" r="1.3"/><circle cx="211.00" cy="46.00" r="1.3"/><circle cx="217.00" cy="46.00" r="1.3"/><circle cx="220.00" cy="46.00" r="1.3"/><circle cx="226.00" cy="46.00" r="1.3"/><circle cx="229.00" cy="46.00" r="1.3"/><circle cx="235.00" cy="46.00" r="1.3"/><circle cx="238.00" cy="46.00" r="1.3"/><circle cx="59.50" cy="48.60" r="1.3"/><circle cx="62.50" cy="48.60" r="1.3"/><circle cx="68.50" cy="48.60" r="1.3"/><circle cx="71.50" cy="48.60" r="1.3"/><circle cx="77.50" cy="48.60" r="1.3"/><circle cx="80.50" cy="48.60" r="1.3"/><circle cx="86.50" cy="48.60" r="1.3"/><circle cx="89.50" cy="48.60" r="1.3"/><circle cx="95.50" cy="48.60" r="1.3"/><circle cx="98.50" cy="48.60" r="1.3"/><circle cx="104.50" cy="48.60" r="1.3"/><circle cx="107.50" cy="48.60" r="1.3"/><circle cx="113.50" cy="48.60" r="1.3"/><circle cx="116.50" cy="48.60" r="1.3"/><circle cx="122.50" cy="48.60" r="1.3"/><circle cx="125.50" cy="48.60" r="1.3"/><circle cx="131.50" cy="48.60" r="1.3"/><circle cx="134.50" cy="48.60" r="1.3"/><circle cx="140.50" cy="48.60" r="1.3"/><circle cx="143.50" cy="48.60" r="1.3"/><circle cx="149.50" cy="48.60" r="1.3"/><circle cx="152.50" cy="48.60" r="1.3"/><circle cx="158.50" cy="48.60" r="1.3"/><circle cx="161.50" cy="48.60" r="1.3"/><circle cx="167.50" cy="48.60" r="1.3"/><circle cx="170.50" cy="48.60" r="1.3"/><circle cx="176.50" cy="48.60" r="1.3"/><circle cx="179.50" cy="48.60" r="1.3"/><circle cx="185.50" cy="48.60" r="1.3"/><circle cx="188.50" cy="48.60" r="1.3"/><circle cx="194.50" cy="48.60" r="1.3"/><circle cx="197.50" cy="48.60" r="1.3"/><circle cx="203.50" cy="48.60" r="1.3"/><circle cx="206.50" cy="48.60" r="1.3"/><circle cx="212.50" cy="48.60" r="1.3"/><circle cx="215.50" cy="48.60" r="1.3"/><circle cx="221.50" cy="48.60" r="1.3"/><circle cx="224.50" cy="48.60" r="1.3"/><circle cx="230.50" cy="48.60" r="1.3"/><circle cx="233.50" cy="48.60" r="1.3"/><circle cx="55.00" cy="51.20" r="1.3"/><circle cx="58.00" cy="51.20" r="1.3"/><circle cx="64.00" cy="51.20" r="1.3"/><circle cx="67.00" cy="51.20" r="1.3"/><circle cx="73.00" cy="51.20" r="1.3"/><circle cx="76.00" cy="51.20" r="1.3"/><circle cx="82.00" cy="51.20" r="1.3"/><circle cx="85.00" cy="51.20" r="1.3"/><circle cx="91.00" cy="51.20" r="1.3"/><circle cx="94.00" cy="51.20" r="1.3"/><circle cx="100.00" cy="51.20" r="1.3"/><circle cx="103.00" cy="51.20" r="1.3"/><circle cx="109.00" cy="51.20" r="1.3"/><circle cx="112.00" cy="51.20" r="1.3"/><circle cx="118.00" cy="51.20" r="1.3"/><circle cx="121.00" cy="51.20" r="1.3"/><circle cx="127.00" cy="51.20" r="1.3"/><circle cx="130.00" cy="51.20" r="1.3"/><circle cx="136.00" cy="51.20" r="1.3"/><circle cx="139.00" cy="51.20" r="1.3"/><circle cx="145.00" cy="51.20" r="1.3"/><circle cx="148.00" cy="51.20" r="1.3"/><circle cx="154.00" cy="51.20" r="1.3"/><circle cx="157.00" cy="51.20" r="1.3"/><circle cx="163.00" cy="51.20" r="1.3"/><circle cx="166.00" cy="51.20" r="1.3"/><circle cx="172.00" cy="51.20" r="1.3"/><circle cx="175.00" cy="51.20" r="1.3"/><circle cx="181.00" cy="51.20" r="1.3"/><circle cx="184.00" cy="51.20" r="1.3"/><circle cx="190.00" cy="51.20" r="1.3"/><circle cx="193.00" cy="51.20" r="1.3"/><circle cx="199.00" cy="51.20" r="1.3"/><circle cx="202.00" cy="51.20" r="1.3"/><circle cx="208.00" cy="51.20" r="1.3"/><circle cx="211.00" cy="51.20" r="1.3"/><circle cx="217.00" cy="51.20" r="1.3"/><circle cx="220.00" cy="51.20" r="1.3"/><circle cx="226.00" cy="51.20" r="1.3"/><circle cx="229.00" cy="51.20" r="1.3"/><circle cx="235.00" cy="51.20" r="1.3"/><circle cx="238.00" cy="51.20" r="1.3"/><circle cx="59.50" cy="53.79" r="1.3"/><circle cx="62.50" cy="53.79" r="1.3"/><circle cx="68.50" cy="53.79" r="1.3"/><circle cx="71.50" cy="53.79" r="1.3"/><circle cx="77.50" cy="53.79" r="1.3"/><circle cx="80.50" cy="53.79" r="1.3"/><circle cx="86.50" cy="53.79" r="1.3"/><circle cx="89.50" cy="53.79" r="1.3"/><circle cx="95.50" cy="53.79" r="1.3"/><circle cx="98.50" cy="53.79" r="1.3"/><circle cx="104.50" cy="53.79" r="1.3"/><circle cx="107.50" cy="53.79" r="1.3"/><circle cx="113.50" cy="53.79" r="1.3"/><circle cx="116.50" cy="53.79" r="1.3"/><circle cx="122.50" cy="53.79" r="1.3"/><circle cx="125.50" cy="53.79" r="1.3"/><circle cx="131.50" cy="53.79" r="1.3"/><circle cx="134.50" cy="53.79" r="1.3"/><circle cx="140.50" cy="53.79" r="1.3"/><circle cx="143.50" cy="53.79" r="1.3"/><circle cx="149.50" cy="53.79" r="1.3"/><circle cx="152.50" cy="53.79" r="1.3"/><circle cx="158.50" cy="53.79" r="1.3"/><circle cx="161.50" cy="53.79" r="1.3"/><circle cx="167.50" cy="53.79" r="1.3"/><circle cx="170.50" cy="53.79" r="1.3"/><circle cx="176.50" cy="53.79" r="1.3"/><circle cx="179.50" cy="53.79" r="1.3"/><circle cx="185.50" cy="53.79" r="1.3"/><circle cx="188.50" cy="53.79" r="1.3"/><circle cx="194.50" cy="53.79" r="1.3"/><circle cx="197.50" cy="53.79" r="1.3"/><circle cx="203.50" cy="53.79" r="1.3"/><circle cx="206.50" cy="53.79" r="1.3"/><circle cx="212.50" cy="53.79" r="1.3"/><circle cx="215.50" cy="53.79" r="1.3"/><circle cx="221.50" cy="53.79" r="1.3"/><circle cx="224.50" cy="53.79" r="1.3"/><circle cx="230.50" cy="53.79" r="1.3"/><circle cx="233.50" cy="53.79" r="1.3"/><circle cx="55.00" cy="56.39" r="1.3"/><circle cx="58.00" cy="56.39" r="1.3"/><circle cx="64.00" cy="56.39" r="1.3"/><circle cx="67.00" cy="56.39" r="1.3"/><circle cx="73.00" cy="56.39" r="1.3"/><circle cx="76.00" cy="56.39" r="1.3"/><circle cx="82.00" cy="56.39" r="1.3"/><circle cx="85.00" cy="56.39" r="1.3"/><circle cx="91.00" cy="56.39" r="1.3"/><circle cx="94.00" cy="56.39" r="1.3"/><circle cx="100.00" cy="56.39" r="1.3"/><circle cx="103.00" cy="56.39" r="1.3"/><circle cx="109.00" cy="56.39" r="1.3"/><circle cx="112.00" cy="56.39" r="1.3"/><circle cx="118.00" cy="56.39" r="1.3"/><circle cx="121.00" cy="56.39" r="1.3"/><circle cx="127.00" cy="56.39" r="1.3"/><circle cx="130.00" cy="56.39" r="1.3"/><circle cx="136.00" cy="56.39" r="1.3"/><circle cx="139.00" cy="56.39" r="1.3"/><circle cx="145.00" cy="56.39" r="1.3"/><circle cx="148.00" cy="56.39" r="1.3"/><circle cx="154.00" cy="56.39" r="1.3"/><circle cx="157.00" cy="56.39" r="1.3"/><circle cx="163.00" cy="56.39" r="1.3"/><circle cx="166.00" cy="56.39" r="1.3"/><circle cx="172.00" cy="56.39" r="1.3"/><circle cx="175.00" cy="56.39" r="1.3"/><circle cx="181.00" cy="56.39" r="1.3"/><circle cx="184.00" cy="56.39" r="1.3"/><circle cx="190.00" cy="56.39" r="1.3"/><circle cx="193.00" cy="56.39" r="1.3"/><circle cx="199.00" cy="56.39" r="1.3"/><circle cx="202.00" cy="56.39" r="1.3"/><circle cx="208.00" cy="56.39" r="1.3"/><circle cx="211.00" cy="56.39" r="1.3"/><circle cx="217.00" cy="56.39" r="1.3"/><circle cx="220.00" cy="56.39" r="1.3"/><circle cx="226.00" cy="56.39" r="1.3"/><circle cx="229.00" cy="56.39" r="1.3"/><circle cx="235.00" cy="56.39" r="1.3"/><circle cx="238.00" cy="56.39" r="1.3"/></g>
<polygon points="165,15 229,27 229,48.5 165,38.8" fill="#0a0ac4"/>
<polygon points="165,38.8 229,48.5 229,56 165,45" fill="#5e3e7a"/>
<rect x="63" y="15" width="102" height="23.8" fill="#0c0cf8"/>
<rect x="63" y="38.8" width="102" height="6.2" fill="#a882ae"/>
<text x="82.3" y="30.5" font-size="11" fill="#fff" font-style="italic" stroke="#fff" stroke-width="0.12">T<tspan font-size="7.5" dy="2" font-style="normal">3</tspan></text>
<text x="145" y="30.5" font-size="10" fill="#fff" textLength="17.3" lengthAdjust="spacingAndGlyphs" stroke="#fff" stroke-width="0.12"><tspan font-style="italic">n</tspan>-Si</text>
<polygon points="63,66 165,66 229,78 229,107 127,107 63,95" fill="#5e3e7a"/>
<polygon points="63,95 165,95 229,107 127,107" fill="#7a5a92"/>
<polygon points="165,66 229,78 229,83.4 165,71.4" fill="#5e3e7a"/>
<rect x="63" y="66" width="102" height="5.40" fill="#a882ae"/>
<polygon points="165,71.4 229,83.4 229,89.4 165,77.4" fill="#c9a312"/>
<rect x="63" y="71.4" width="102" height="6.00" fill="#f2d200"/>
<polygon points="165,77.4 229,89.4 229,95.6 165,83.6" fill="#0c8a10"/>
<rect x="63" y="77.4" width="102" height="6.20" fill="#2eb52e"/>
<polygon points="165,83.6 229,95.6 229,102 165,90" fill="#c9a312"/>
<rect x="63" y="83.6" width="102" height="6.40" fill="#f2d200"/>
<polygon points="165,90 229,102 229,107 165,95" fill="#5e3e7a"/>
<rect x="63" y="90" width="102" height="5.00" fill="#a882ae"/>
<text x="82.4" y="75.6" font-size="11" fill="#1a1a1a" font-style="italic" stroke="#1a1a1a" stroke-width="0.12">T<tspan font-size="7" dy="1.6" font-style="normal">2</tspan></text>
<polygon points="63,117 165,117 229,129 229,158 127,158 63,146" fill="#c24448"/>
<polygon points="63,146 165,146 229,158 127,158" fill="#d84848"/>
<polygon points="165,122 229,134 229,158 165,146" fill="#c24448"/>
<polygon points="165,116.8 229,128.8 229,134.2 165,122.2" fill="#8e70a6"/>
<rect x="63" y="117" width="102" height="5" fill="#a882ae"/>
<rect x="63" y="122" width="102" height="24" fill="#ff3f3f"/>
<polyline points="70,123.6 126,134 165,134" fill="none" stroke="#ff7070" stroke-width="0.6"/>
<g fill="#151515"><circle cx="67.50" cy="116.30" r="1.2"/><circle cx="73.50" cy="116.30" r="1.2"/><circle cx="76.50" cy="116.30" r="1.2"/><circle cx="82.50" cy="116.30" r="1.2"/><circle cx="85.50" cy="116.30" r="1.2"/><circle cx="91.50" cy="116.30" r="1.2"/><circle cx="94.50" cy="116.30" r="1.2"/><circle cx="100.50" cy="116.30" r="1.2"/><circle cx="103.50" cy="116.30" r="1.2"/><circle cx="109.50" cy="116.30" r="1.2"/><circle cx="112.50" cy="116.30" r="1.2"/><circle cx="118.50" cy="116.30" r="1.2"/><circle cx="121.50" cy="116.30" r="1.2"/><circle cx="127.50" cy="116.30" r="1.2"/><circle cx="130.50" cy="116.30" r="1.2"/><circle cx="136.50" cy="116.30" r="1.2"/><circle cx="139.50" cy="116.30" r="1.2"/><circle cx="145.50" cy="116.30" r="1.2"/><circle cx="148.50" cy="116.30" r="1.2"/><circle cx="154.50" cy="116.30" r="1.2"/><circle cx="157.50" cy="116.30" r="1.2"/><circle cx="163.50" cy="116.30" r="1.2"/><circle cx="166.50" cy="116.30" r="1.2"/><circle cx="168.00" cy="116.96" r="1.2"/><circle cx="171.00" cy="117.53" r="1.2"/><circle cx="177.00" cy="118.65" r="1.2"/><circle cx="180.00" cy="119.21" r="1.2"/><circle cx="186.00" cy="120.34" r="1.2"/><circle cx="189.00" cy="120.90" r="1.2"/><circle cx="195.00" cy="122.03" r="1.2"/><circle cx="198.00" cy="122.59" r="1.2"/><circle cx="204.00" cy="123.71" r="1.2"/><circle cx="207.00" cy="124.28" r="1.2"/><circle cx="213.00" cy="125.40" r="1.2"/><circle cx="216.00" cy="125.96" r="1.2"/><circle cx="222.00" cy="127.09" r="1.2"/><circle cx="225.00" cy="127.65" r="1.2"/></g>
<g fill="#5a4470" opacity="0.8"><circle cx="78.50" cy="119.20" r="0.85"/><circle cx="81.50" cy="119.20" r="0.85"/><circle cx="87.50" cy="119.20" r="0.85"/><circle cx="90.50" cy="119.20" r="0.85"/><circle cx="96.50" cy="119.20" r="0.85"/><circle cx="99.50" cy="119.20" r="0.85"/><circle cx="105.50" cy="119.20" r="0.85"/><circle cx="108.50" cy="119.20" r="0.85"/><circle cx="114.50" cy="119.20" r="0.85"/><circle cx="117.50" cy="119.20" r="0.85"/><circle cx="123.50" cy="119.20" r="0.85"/><circle cx="126.50" cy="119.20" r="0.85"/><circle cx="132.50" cy="119.20" r="0.85"/><circle cx="135.50" cy="119.20" r="0.85"/><circle cx="141.50" cy="119.20" r="0.85"/><circle cx="144.50" cy="119.20" r="0.85"/><circle cx="150.50" cy="119.20" r="0.85"/><circle cx="153.50" cy="119.20" r="0.85"/><circle cx="159.50" cy="119.20" r="0.85"/><circle cx="162.50" cy="119.20" r="0.85"/><circle cx="123.00" cy="121.30" r="0.85"/><circle cx="126.00" cy="121.30" r="0.85"/><circle cx="132.00" cy="121.30" r="0.85"/><circle cx="135.00" cy="121.30" r="0.85"/><circle cx="141.00" cy="121.30" r="0.85"/><circle cx="144.00" cy="121.30" r="0.85"/><circle cx="150.00" cy="121.30" r="0.85"/><circle cx="153.00" cy="121.30" r="0.85"/><circle cx="159.00" cy="121.30" r="0.85"/><circle cx="162.00" cy="121.30" r="0.85"/><circle cx="172.50" cy="120.61" r="0.85"/><circle cx="175.50" cy="121.17" r="0.85"/><circle cx="181.50" cy="122.29" r="0.85"/><circle cx="184.50" cy="122.86" r="0.85"/><circle cx="190.50" cy="123.98" r="0.85"/><circle cx="193.50" cy="124.54" r="0.85"/><circle cx="199.50" cy="125.67" r="0.85"/><circle cx="202.50" cy="126.23" r="0.85"/><circle cx="208.50" cy="127.36" r="0.85"/><circle cx="211.50" cy="127.92" r="0.85"/><circle cx="217.50" cy="129.04" r="0.85"/><circle cx="220.50" cy="129.61" r="0.85"/><circle cx="226.50" cy="130.73" r="0.85"/><circle cx="168.00" cy="122.36" r="0.85"/><circle cx="171.00" cy="122.92" r="0.85"/><circle cx="177.00" cy="124.05" r="0.85"/><circle cx="180.00" cy="124.61" r="0.85"/><circle cx="186.00" cy="125.74" r="0.85"/><circle cx="189.00" cy="126.30" r="0.85"/><circle cx="195.00" cy="127.42" r="0.85"/><circle cx="198.00" cy="127.99" r="0.85"/><circle cx="204.00" cy="129.11" r="0.85"/><circle cx="207.00" cy="129.68" r="0.85"/><circle cx="213.00" cy="130.80" r="0.85"/><circle cx="216.00" cy="131.36" r="0.85"/><circle cx="222.00" cy="132.49" r="0.85"/><circle cx="225.00" cy="133.05" r="0.85"/></g>
<text x="82" y="139" font-size="10" fill="#2a1010" textLength="34" lengthAdjust="spacingAndGlyphs" stroke="#2a1010" stroke-width="0.12"><tspan font-style="italic">T</tspan><tspan font-size="7" dy="1.8">1</tspan><tspan dy="-1.8"> &gt; </tspan><tspan font-style="italic">T</tspan><tspan font-size="7" dy="1.8">3</tspan></text>
<text x="145" y="139" font-size="10" fill="#2a1010" textLength="17.3" lengthAdjust="spacingAndGlyphs" stroke="#2a1010" stroke-width="0.12"><tspan font-style="italic">n</tspan>-Si</text>
<polyline points="141.5,15 141.5,7.5 251.5,7.5 251.5,27.5" stroke="#222" stroke-width="1" fill="none"/>
<polyline points="251.5,31.5 251.5,52.5 199,52.5" stroke="#222" stroke-width="1" fill="none"/>
<line x1="242.2" y1="27.5" x2="260" y2="27.5" stroke="#111" stroke-width="1.1"/>
<line x1="246.8" y1="31.5" x2="255.2" y2="31.5" stroke="#111" stroke-width="1.2"/>
<text x="264.4" y="33" font-size="10" fill="#333333" font-style="italic" stroke="#333333" stroke-width="0.12">V<tspan font-size="7.6" dy="2">g</tspan><tspan font-size="7.6" font-style="normal">2</tspan></text>
<polyline points="206,125.5 251.5,125.5 251.5,142.5" stroke="#222" stroke-width="1" fill="none"/>
<polyline points="251.5,146.5 251.5,162.5 141.5,162.5 141.5,155" stroke="#222" stroke-width="1" fill="none"/>
<line x1="247" y1="142.5" x2="255" y2="142.5" stroke="#111" stroke-width="1.2"/>
<line x1="242.2" y1="146.5" x2="259.8" y2="146.5" stroke="#111" stroke-width="1.1"/>
<text x="264.4" y="147" font-size="10" fill="#333333" font-style="italic" stroke="#333333" stroke-width="0.12">V<tspan font-size="7.6" dy="2">g</tspan><tspan font-size="7.6" font-style="normal">1</tspan></text>
<polyline points="205,57 254,92.5" stroke="#444" stroke-width="0.7" fill="none"/>
<polyline points="254,95 206,123.5" stroke="#444" stroke-width="0.7" fill="none"/>
<text x="256.6" y="97.6" font-size="10.4" fill="#333333" textLength="42.4" lengthAdjust="spacingAndGlyphs" stroke="#333333" stroke-width="0.12">Graphene</text>
<text x="2.4" y="84" font-size="10.4" fill="#333333" textLength="45.6" lengthAdjust="spacingAndGlyphs" stroke="#333333" stroke-width="0.12">Electrodes</text>
<polyline points="50,79 63,74.4" stroke="#444" stroke-width="0.7" fill="none"/>
<polyline points="50,83 63,86.6" stroke="#444" stroke-width="0.7" fill="none"/>
<text x="17.00" y="10.20" font-size="9.5" text-anchor="start" fill="#222" font-weight="bold"  stroke="#222" stroke-width="0.12">a</text>
<rect x="3" y="153" width="18" height="9" fill="#a882ae"/>
<rect x="3" y="165.6" width="18" height="8.8" fill="#f2d200"/>
<rect x="3" y="178" width="18" height="8.6" fill="#2eb52e"/>
<text x="25" y="161" font-size="10.4" fill="#333333" stroke="#333333" stroke-width="0.12">SiO<tspan font-size="7" dy="1.8">2</tspan></text>
<text x="25" y="173.3" font-size="10.4" fill="#333333" stroke="#333333" stroke-width="0.12">Au</text>
<text x="25" y="185.5" font-size="10.4" fill="#333333" textLength="61.4" lengthAdjust="spacingAndGlyphs" stroke="#333333" stroke-width="0.12">Pyro material</text>
<line x1="142" y1="172.6" x2="142" y2="203.6" stroke="#999" stroke-width="0.9"/>
<line x1="142" y1="203.6" x2="238" y2="203.6" stroke="#999" stroke-width="0.9"/>
<path d="M242,203.6 L236.5,201.6 L236.5,205.6 Z" fill="#777"/>
<line x1="142" y1="209.4" x2="142" y2="240.4" stroke="#999" stroke-width="0.9"/>
<line x1="142" y1="240.4" x2="238" y2="240.4" stroke="#999" stroke-width="0.9"/>
<path d="M242,240.4 L236.5,238.4 L236.5,242.4 Z" fill="#777"/>
<polyline points="142,203.3 163.6,203.3 163.6,177.6 186.5,177.6 186.5,203.3 208.7,203.3 208.7,177.6 230.7,177.6" stroke="#111" stroke-width="1.3" fill="none" stroke-linejoin="miter"/>
<polyline points="142.3,240.1 142.3,214.4 163.6,214.4 163.6,240.1 186.5,240.1 186.5,214.4 208.7,214.4 208.7,240.1 230.7,240.1" stroke="#111" stroke-width="1.3" fill="none" stroke-linejoin="miter"/>
<text x="123.6" y="180" font-size="10" fill="#333333" font-style="italic" stroke="#333333" stroke-width="0.12">V<tspan font-size="7.6" dy="2">g</tspan><tspan font-size="7.6" font-style="normal">1</tspan></text>
<text x="123.6" y="217" font-size="10" fill="#333333" font-style="italic" stroke="#333333" stroke-width="0.12">V<tspan font-size="7.6" dy="2">g</tspan><tspan font-size="7.6" font-style="normal">2</tspan></text>
<text x="139.5" y="206" font-size="6.5" fill="#333333" text-anchor="end" stroke="#333333" stroke-width="0.12">0</text>
<text x="139.5" y="242.8" font-size="6.5" fill="#333333" text-anchor="end" stroke="#333333" stroke-width="0.12">0</text>
<text x="231.4" y="249.8" font-size="9.6" fill="#333333" textLength="17" lengthAdjust="spacingAndGlyphs" stroke="#333333" stroke-width="0.12">time</text>
<defs>
<radialGradient id="gBa" cx="0.38" cy="0.35" r="0.65"><stop offset="0" stop-color="#3a3aff"/><stop offset="0.55" stop-color="#1010d0"/><stop offset="1" stop-color="#0a0a70"/></radialGradient>
<radialGradient id="gO" cx="0.4" cy="0.35" r="0.65"><stop offset="0" stop-color="#6ff5f5"/><stop offset="0.55" stop-color="#18d2d8"/><stop offset="1" stop-color="#0a8a9a"/></radialGradient>
<radialGradient id="gTi" cx="0.4" cy="0.35" r="0.65"><stop offset="0" stop-color="#ff3030"/><stop offset="0.6" stop-color="#dd0000"/><stop offset="1" stop-color="#900000"/></radialGradient>
</defs>
<text x="19.40" y="268.00" font-size="9.5" text-anchor="start" fill="#222" font-weight="bold"  stroke="#222" stroke-width="0.12">b</text>
<circle cx="81.00" cy="265.60" r="4.5" fill="url(#gBa)"/>
<circle cx="120.20" cy="266.00" r="4.5" fill="url(#gO)"/>
<circle cx="160.00" cy="266.90" r="2.6" fill="url(#gTi)"/>
<text x="83" y="279" font-size="9.6" fill="#333333" text-anchor="middle" stroke="#333333" stroke-width="0.12">Ba</text>
<text x="120.2" y="279" font-size="9.6" fill="#333333" text-anchor="middle" stroke="#333333" stroke-width="0.12">O</text>
<text x="160" y="279" font-size="9.6" fill="#333333" text-anchor="middle" stroke="#333333" stroke-width="0.12">Ti</text>
<g stroke="#111" stroke-width="1" fill="#111"><line x1="59" y1="335" x2="59" y2="327"/><path d="M59,323.5 L57.2,328 L60.8,328 Z" stroke="none"/><line x1="59" y1="335" x2="67" y2="335"/><path d="M71,335 L66.5,333.2 L66.5,336.8 Z" stroke="none"/><line x1="59" y1="335" x2="53.5" y2="340.5"/><path d="M51,343 L52.3,338.3 L55.7,341.7 Z" stroke="none"/></g>
<text x="62.5" y="323.2" font-size="9" fill="#333333" font-style="italic" stroke="#333333" stroke-width="0.12">c</text>
<text x="72.6" y="338.3" font-size="9" fill="#333333" font-style="italic" stroke="#333333" stroke-width="0.12">b</text>
<text x="49.6" y="348.8" font-size="9" fill="#333333" font-style="italic" stroke="#333333" stroke-width="0.12">a</text>
<line x1="104.4" y1="298.6" x2="146.5" y2="298.6" stroke="#5a5a5a" stroke-width="1.1"/>
<line x1="146.5" y1="298.6" x2="147.5" y2="342.8" stroke="#5a5a5a" stroke-width="1.1"/>
<line x1="147.5" y1="342.8" x2="104.5" y2="342.8" stroke="#5a5a5a" stroke-width="1.1"/>
<line x1="104.5" y1="342.8" x2="104.4" y2="298.6" stroke="#5a5a5a" stroke-width="1.1"/>
<line x1="91.9" y1="309.4" x2="104.4" y2="298.6" stroke="#5a5a5a" stroke-width="1.1"/>
<line x1="135.3" y1="309.4" x2="146.5" y2="298.6" stroke="#5a5a5a" stroke-width="1.1"/>
<line x1="134.9" y1="352" x2="147.5" y2="342.8" stroke="#5a5a5a" stroke-width="1.1"/>
<line x1="91.5" y1="351.7" x2="104.5" y2="342.8" stroke="#5a5a5a" stroke-width="1.1"/>
<circle cx="104.40" cy="298.60" r="4.6" fill="url(#gBa)"/>
<circle cx="146.50" cy="298.60" r="4.6" fill="url(#gBa)"/>
<circle cx="147.50" cy="342.80" r="4.6" fill="url(#gBa)"/>
<circle cx="104.50" cy="342.80" r="4.6" fill="url(#gBa)"/>
<line x1="120" y1="303.3" x2="98.9" y2="325.4" stroke="#1a1a1a" stroke-width="0.9"/>
<line x1="120" y1="346.7" x2="98.9" y2="325.4" stroke="#1a1a1a" stroke-width="0.9"/>
<line x1="120" y1="303.3" x2="125.1" y2="321" stroke="#1a1a1a" stroke-width="0.9"/>
<line x1="120" y1="346.7" x2="125.1" y2="321" stroke="#1a1a1a" stroke-width="0.9"/>
<line x1="120" y1="303.3" x2="141.4" y2="326.3" stroke="#1a1a1a" stroke-width="0.9"/>
<line x1="120" y1="346.7" x2="141.4" y2="326.3" stroke="#1a1a1a" stroke-width="0.9"/>
<line x1="120" y1="303.3" x2="113.7" y2="330.6" stroke="#1a1a1a" stroke-width="0.9"/>
<line x1="120" y1="346.7" x2="113.7" y2="330.6" stroke="#1a1a1a" stroke-width="0.9"/>
<line x1="98.9" y1="325.4" x2="125.1" y2="321" stroke="#1a1a1a" stroke-width="0.9"/>
<line x1="125.1" y1="321" x2="141.4" y2="326.3" stroke="#1a1a1a" stroke-width="0.9"/>
<line x1="141.4" y1="326.3" x2="113.7" y2="330.6" stroke="#1a1a1a" stroke-width="0.9"/>
<line x1="113.7" y1="330.6" x2="98.9" y2="325.4" stroke="#1a1a1a" stroke-width="0.9"/>
<circle cx="120.00" cy="303.30" r="4.6" fill="url(#gO)"/>
<circle cx="120.00" cy="346.70" r="4.6" fill="url(#gO)"/>
<circle cx="125.10" cy="321.00" r="4.6" fill="url(#gO)"/>
<circle cx="119.30" cy="326.30" r="2.6" fill="url(#gTi)"/>
<circle cx="98.90" cy="325.40" r="4.6" fill="url(#gO)"/>
<circle cx="141.40" cy="326.30" r="4.6" fill="url(#gO)"/>
<circle cx="113.70" cy="330.60" r="4.6" fill="url(#gO)"/>
<line x1="91.9" y1="309.4" x2="135.3" y2="309.4" stroke="#5a5a5a" stroke-width="1.1"/>
<line x1="135.3" y1="309.4" x2="134.9" y2="352" stroke="#5a5a5a" stroke-width="1.1"/>
<line x1="134.9" y1="352" x2="91.5" y2="351.7" stroke="#5a5a5a" stroke-width="1.1"/>
<line x1="91.5" y1="351.7" x2="91.9" y2="309.4" stroke="#5a5a5a" stroke-width="1.1"/>
<circle cx="91.90" cy="309.40" r="4.6" fill="url(#gBa)"/>
<circle cx="135.30" cy="309.40" r="4.6" fill="url(#gBa)"/>
<circle cx="134.90" cy="352.00" r="4.6" fill="url(#gBa)"/>
<circle cx="91.50" cy="351.70" r="4.6" fill="url(#gBa)"/>
<line x1="199.1" y1="279" x2="241.7" y2="279" stroke="#5a5a5a" stroke-width="1.1"/>
<line x1="241.7" y1="279" x2="241.6" y2="340.5" stroke="#5a5a5a" stroke-width="1.1"/>
<line x1="241.6" y1="340.5" x2="198.4" y2="340.3" stroke="#5a5a5a" stroke-width="1.1"/>
<line x1="198.4" y1="340.3" x2="199.1" y2="279" stroke="#5a5a5a" stroke-width="1.1"/>
<line x1="186.7" y1="291.4" x2="199.1" y2="279" stroke="#5a5a5a" stroke-width="1.1"/>
<line x1="230.4" y1="291.4" x2="241.7" y2="279" stroke="#5a5a5a" stroke-width="1.1"/>
<line x1="230" y1="352" x2="241.6" y2="340.5" stroke="#5a5a5a" stroke-width="1.1"/>
<line x1="186.4" y1="352" x2="198.4" y2="340.3" stroke="#5a5a5a" stroke-width="1.1"/>
<circle cx="199.10" cy="279.00" r="4.6" fill="url(#gBa)"/>
<circle cx="241.70" cy="279.00" r="4.6" fill="url(#gBa)"/>
<circle cx="241.60" cy="340.50" r="4.6" fill="url(#gBa)"/>
<circle cx="198.40" cy="340.30" r="4.6" fill="url(#gBa)"/>
<line x1="214.4" y1="285.3" x2="192.5" y2="315.1" stroke="#1a1a1a" stroke-width="0.9"/>
<line x1="214.7" y1="344.4" x2="192.5" y2="315.1" stroke="#1a1a1a" stroke-width="0.9"/>
<line x1="214.4" y1="285.3" x2="220.2" y2="311.2" stroke="#1a1a1a" stroke-width="0.9"/>
<line x1="214.7" y1="344.4" x2="220.2" y2="311.2" stroke="#1a1a1a" stroke-width="0.9"/>
<line x1="214.4" y1="285.3" x2="235.9" y2="315.1" stroke="#1a1a1a" stroke-width="0.9"/>
<line x1="214.7" y1="344.4" x2="235.9" y2="315.1" stroke="#1a1a1a" stroke-width="0.9"/>
<line x1="214.4" y1="285.3" x2="207.5" y2="320.9" stroke="#1a1a1a" stroke-width="0.9"/>
<line x1="214.7" y1="344.4" x2="207.5" y2="320.9" stroke="#1a1a1a" stroke-width="0.9"/>
<line x1="192.5" y1="315.1" x2="220.2" y2="311.2" stroke="#1a1a1a" stroke-width="0.9"/>
<line x1="220.2" y1="311.2" x2="235.9" y2="315.1" stroke="#1a1a1a" stroke-width="0.9"/>
<line x1="235.9" y1="315.1" x2="207.5" y2="320.9" stroke="#1a1a1a" stroke-width="0.9"/>
<line x1="207.5" y1="320.9" x2="192.5" y2="315.1" stroke="#1a1a1a" stroke-width="0.9"/>
<circle cx="214.40" cy="285.30" r="4.6" fill="url(#gO)"/>
<circle cx="214.70" cy="344.40" r="4.6" fill="url(#gO)"/>
<circle cx="220.20" cy="311.20" r="4.6" fill="url(#gO)"/>
<circle cx="214.00" cy="304.20" r="2.6" fill="url(#gTi)"/>
<circle cx="192.50" cy="315.10" r="4.6" fill="url(#gO)"/>
<circle cx="235.90" cy="315.10" r="4.6" fill="url(#gO)"/>
<circle cx="207.50" cy="320.90" r="4.6" fill="url(#gO)"/>
<line x1="186.7" y1="291.4" x2="230.4" y2="291.4" stroke="#5a5a5a" stroke-width="1.1"/>
<line x1="230.4" y1="291.4" x2="230" y2="352" stroke="#5a5a5a" stroke-width="1.1"/>
<line x1="230" y1="352" x2="186.4" y2="352" stroke="#5a5a5a" stroke-width="1.1"/>
<line x1="186.4" y1="352" x2="186.7" y2="291.4" stroke="#5a5a5a" stroke-width="1.1"/>
<circle cx="186.70" cy="291.40" r="4.6" fill="url(#gBa)"/>
<circle cx="230.40" cy="291.40" r="4.6" fill="url(#gBa)"/>
<circle cx="230.00" cy="352.00" r="4.6" fill="url(#gBa)"/>
<circle cx="186.40" cy="352.00" r="4.6" fill="url(#gBa)"/>
<text x="100.3" y="368" font-size="9.6" fill="#333333" textLength="30.3" lengthAdjust="spacingAndGlyphs" stroke="#333333" stroke-width="0.12"><tspan font-style="italic">T</tspan> &gt; <tspan font-style="italic">T</tspan><tspan font-size="6.8" dy="1.8" font-style="italic">C</tspan></text>
<text x="115" y="380" font-size="9.6" fill="#333333" text-anchor="middle" textLength="58" lengthAdjust="spacingAndGlyphs" stroke="#333333" stroke-width="0.12">(paraelectric)</text>
<text x="196.2" y="368" font-size="9.6" fill="#333333" textLength="33" lengthAdjust="spacingAndGlyphs" stroke="#333333" stroke-width="0.12"><tspan font-style="italic">T</tspan> &lt; <tspan font-style="italic">T</tspan><tspan font-size="6.8" dy="1.8" font-style="italic">C</tspan></text>
<text x="211.8" y="380" font-size="9.6" fill="#333333" text-anchor="middle" textLength="59.6" lengthAdjust="spacingAndGlyphs" stroke="#333333" stroke-width="0.12">(ferroelectric)</text>
<line x1="253.4" y1="328" x2="253.4" y2="305" stroke="#ff2020" stroke-width="0.9"/>
<path d="M253.4,300.5 L251.1,306.2 L255.7,306.2 Z" fill="#ff2020"/>
<text x="256.3" y="319.2" font-size="10.6" fill="#ff2020" font-style="italic" stroke="#ff2020" stroke-width="0.12">P</text>
</svg></body></html>
